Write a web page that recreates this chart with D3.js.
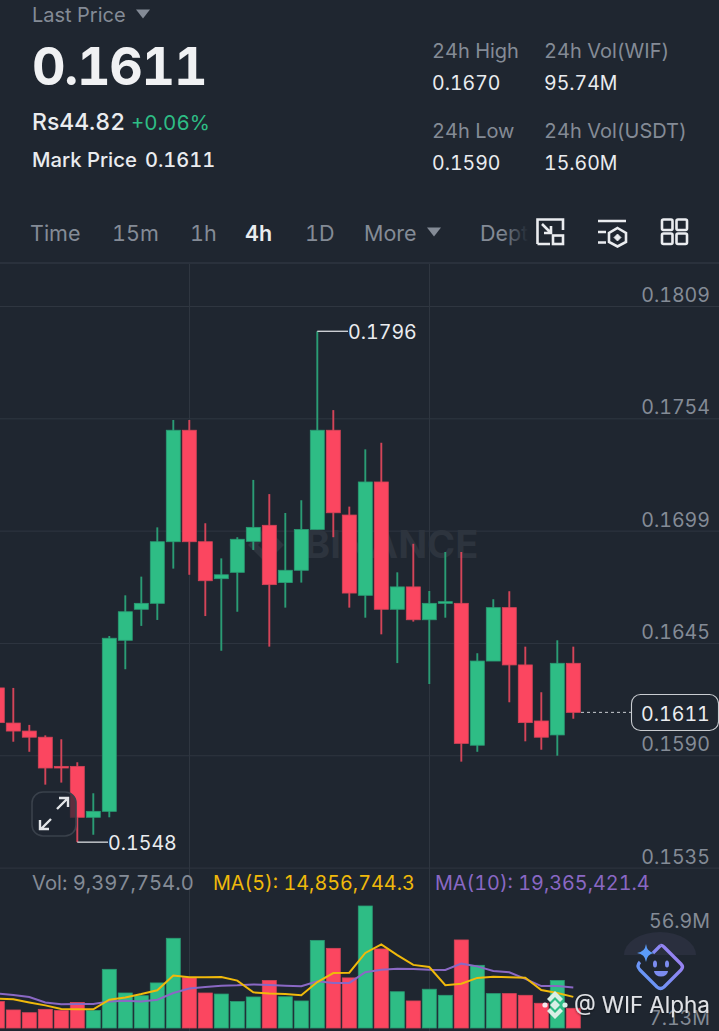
<!DOCTYPE html>
<html>
<head>
<meta charset="utf-8">
<script src="https://cdn.jsdelivr.net/npm/d3@7.9.0/dist/d3.min.js"></script>
<style>
  html, body { margin: 0; padding: 0; background: #1f2630; overflow: hidden; }
  svg { display: block; }
  text { font-family: Inter, "Noto Sans", sans-serif; font-variant-numeric: tabular-nums; }
</style>
</head>
<body>
<svg id="chart" width="719" height="1031"></svg>
<script>
// candles (first one is cut by the left edge)
const opens = [0.16227,0.16056,0.16017,0.15987,0.15845,0.15845,0.15597,0.15626,0.16459,0.16610,0.16639,0.16939,0.17482,0.16939,0.16759,0.16790,0.16941,0.17019,0.16740,0.16800,0.16999,0.17482,0.17069,0.16678,0.17230,0.16610,0.16719,0.16559,0.16639,0.16639,0.15948,0.16358,0.16618,0.16339,0.16066,0.15998,0.16347];
const closes = [0.16058,0.16017,0.15987,0.15837,0.15837,0.15597,0.15626,0.16469,0.16598,0.16639,0.16939,0.17482,0.16939,0.16749,0.16778,0.16951,0.17009,0.16730,0.16800,0.16999,0.17482,0.17080,0.16689,0.17230,0.16610,0.16719,0.16559,0.16639,0.16647,0.15957,0.16358,0.16618,0.16339,0.16058,0.15987,0.16347,0.16108];
const highs = [0.16227,0.16227,0.16047,0.15996,0.15977,0.15865,0.15714,0.16480,0.16678,0.16769,0.17009,0.17532,0.17532,0.17029,0.16858,0.16961,0.17240,0.17171,0.17079,0.17141,0.17964,0.17580,0.17110,0.17389,0.17421,0.16790,0.16929,0.16699,0.16889,0.16889,0.16396,0.16659,0.16698,0.16428,0.16206,0.16459,0.16428];
const lows = [0.16058,0.15965,0.15916,0.15756,0.15766,0.15476,0.15512,0.15597,0.16318,0.16529,0.16558,0.16808,0.16778,0.16577,0.16408,0.16598,0.16899,0.16428,0.16618,0.16740,0.16999,0.16961,0.16618,0.16569,0.16488,0.16348,0.16550,0.16246,0.16569,0.15868,0.15916,0.16358,0.16157,0.15967,0.15926,0.15897,0.16077];

// volume pane, millions
const volumes = [12.6,8.6,7.3,8.9,8.3,12.2,8.4,28.0,16.7,15.4,21.5,42.8,24.0,16.7,16.2,12.6,14.8,22.7,14.9,12.9,41.8,38.0,23.9,58.2,37.7,17.3,12.9,18.5,15.6,42.0,29.9,16.4,16.4,15.6,11.8,22.7,9.4];
const ma5 = [14.0,13.7,12.2,10.8,9.1,8.9,8.9,13.5,14.6,16.2,18.0,25.0,24.2,24.2,24.3,22.6,17.0,16.5,16.2,15.6,21.9,26.2,26.4,35.8,39.9,34.8,30.1,29.1,20.4,21.1,23.9,24.5,24.2,24.0,18.1,16.7,14.86];
const ma10 = [16.5,15.7,14.8,12.2,11.3,11.4,11.4,12.7,13.0,12.7,13.5,16.7,18.8,19.6,20.2,20.4,20.8,20.5,20.2,19.9,22.3,21.5,21.5,26.6,27.8,28.3,28.1,27.8,27.7,30.7,29.4,27.2,26.6,23.4,20.0,20.0,19.37];

const priceTicks = [0.18087,0.17540,0.16993,0.16446,0.15899,0.15352];
const tabs = ['Time','15m','1h','4h','1D','More'];

const bg = '#1f2630', green = '#2ebd85', red = '#fb4660', gray = '#848b96', white = '#eaecef';
const gridCol = '#2f3640';

const svg = d3.select('#chart');
const defs = svg.append('defs');

const fade = defs.append('linearGradient').attr('id', 'deptFade');
fade.append('stop').attr('offset', '0.45').attr('stop-color', gray);
fade.append('stop').attr('offset', '1').attr('stop-color', gray).attr('stop-opacity', 0);

const iconGrad = defs.append('linearGradient').attr('id', 'faceGrad')
  .attr('gradientUnits', 'userSpaceOnUse')
  .attr('x1', 637).attr('y1', 985).attr('x2', 684).attr('y2', 948);
iconGrad.append('stop').attr('offset', 0).attr('stop-color', '#5b9cf8');
iconGrad.append('stop').attr('offset', 1).attr('stop-color', '#a57cf0');

const shadow = defs.append('filter').attr('id', 'soft').attr('x', '-20%').attr('y', '-40%').attr('width', '140%').attr('height', '180%');
shadow.append('feDropShadow').attr('dx', 0).attr('dy', 1).attr('stdDeviation', 1.2).attr('flood-color', '#000').attr('flood-opacity', 0.55);

// scales
const idx = d3.range(-1, 36);
const x = d3.scaleLinear().domain([-1, 35]).range([-2.7, 573.3]);
const y = d3.scaleLinear().domain([0.15352, 0.18087]).range([867.6, 306]);
const yVol = d3.scaleLinear().domain([0, 58.2]).range([1028, 906]);

function label(txt, px, py, size, fill, weight) {
  return svg.append('text').attr('x', px).attr('y', py)
    .attr('font-size', size).attr('fill', fill).attr('font-weight', weight || 400).text(txt);
}
function tri(cx, cy, w, h, fill) {
  svg.append('path').attr('d', `M${cx - w / 2},${cy - h / 2}h${w}l${-w / 2},${h}z`).attr('fill', fill);
}

// === header ===
label('Last Price', 32, 22, 20, gray);
tri(143, 14, 14, 9, gray);
label('0.1611', 32, 85, 52, '#f0f1f3', 700).attr('letter-spacing', -1.3);
label('Rs44.82', 32, 130, 23, white, 500);
label('+0.06%', 131, 130, 20.5, green);
label('Mark Price', 32, 167, 20.3, white, 500);
label('0.1611', 145, 167, 20, white, 500);

label('24h High', 432, 58, 20, gray);
label('0.1670', 432, 90, 19.5, white);
label('24h Vol(WIF)', 544, 58, 20, gray);
label('95.74M', 544, 90, 19.5, white);
label('24h Low', 432, 138, 20, gray);
label('0.1590', 432, 170, 19.5, white);
label('24h Vol(USDT)', 544, 138, 20, gray);
label('15.60M', 544, 170, 19.5, white);

// === tabs ===
const tabX = [30, 112, 190, 245, 305, 364];
tabs.forEach((t, i) => {
  label(t, tabX[i], 241, 21.5, t === '4h' ? white : gray, t === '4h' ? 600 : 400);
});
tri(434, 232, 14, 9, gray);
label('Dept', 480, 241, 21.5, 'url(#deptFade)');

// icons on the right of the tabs
const ic = svg.append('g').attr('fill', 'none').attr('stroke', '#eaecef').attr('stroke-width', 2.6);
ic.append('path').attr('d', 'M537.5,244V219.5H563V230M537.5,244H550');
ic.append('path').attr('d', 'M542,224L551,233M551,226V233H544');
ic.append('rect').attr('x', 553).attr('y', 235.5).attr('width', 10).attr('height', 8.5);
ic.append('path').attr('d', 'M598,221H626M598,232H606M598,242.5H606');
ic.append('path').attr('d', 'M617.5,228L626,233V242L617.5,246.5L609,242V233Z');
ic.append('path').attr('d', 'M617.5,234l3.5,3.5l-3.5,3.5l-3.5,-3.5z').attr('fill', '#eaecef').attr('stroke-width', 0.8);
[[662, 219.5], [676.5, 219.5], [662, 233.5], [676.5, 233.5]].forEach(([a, b]) => {
  ic.append('rect').attr('x', a).attr('y', b).attr('width', 10.5).attr('height', 10.5).attr('rx', 1.5);
});

svg.append('line').attr('x1', 0).attr('x2', 719).attr('y1', 263).attr('y2', 263)
  .attr('stroke', gridCol).attr('stroke-width', 1.5);

// === grid and price axis ===
[189.5, 429.5].forEach((gx) => {
  svg.append('line').attr('x1', gx).attr('x2', gx).attr('y1', 264).attr('y2', 1031)
    .attr('stroke', gridCol).attr('stroke-width', 1);
});

const axisG = svg.append('g').attr('class', 'price-axis')
  .call(d3.axisRight(y).tickValues(priceTicks).tickSize(719).tickFormat(d3.format('.4f')));
axisG.select('.domain').remove();
axisG.selectAll('line').attr('stroke', gridCol).attr('stroke-width', 1);
axisG.selectAll('text')
  .attr('x', 710).attr('dy', -4.5).attr('text-anchor', 'end')
  .attr('font-size', 19.6).attr('font-family', 'Inter, sans-serif').attr('fill', gray);

// watermark
svg.append('text').attr('x', 305).attr('y', 558).attr('font-size', 38).attr('font-weight', 700)
  .attr('fill', '#2d343e').text('BINANCE');
svg.append('path').attr('d', 'M266,527l18,18l-18,18l-18,-18z M266,537l8,8l-8,8l-8,-8z')
  .attr('fill', '#2d343e').attr('fill-rule', 'evenodd');

// === candles ===
const candle = svg.append('g').selectAll('g').data(idx).join('g');
const col = (i) => (closes[i + 1] >= opens[i + 1] ? green : red);
const edge = (i) => (closes[i + 1] >= opens[i + 1] ? '#2a9c74' : '#d44458');
candle.append('line')
  .attr('x1', (d) => x(d)).attr('x2', (d) => x(d))
  .attr('y1', (d) => y(highs[d + 1])).attr('y2', (d) => y(lows[d + 1]))
  .attr('stroke', edge).attr('stroke-width', 1.9);
candle.append('rect')
  .attr('x', (d) => x(d) - 7).attr('width', 14)
  .attr('y', (d) => y(Math.max(opens[d + 1], closes[d + 1])))
  .attr('height', (d) => Math.max(1.5, Math.abs(y(opens[d + 1]) - y(closes[d + 1]))))
  .attr('fill', col).attr('stroke', edge).attr('stroke-width', 0.8);

// high / low pins
const maxHigh = d3.max(highs), minLow = d3.min(lows);
const hiX = x(idx[highs.indexOf(maxHigh)]), loX = x(idx[lows.indexOf(minLow)]);
svg.append('line').attr('x1', hiX).attr('x2', 348).attr('y1', y(maxHigh)).attr('y2', y(maxHigh)).attr('stroke', white).attr('stroke-width', 1.2);
label(maxHigh.toFixed(4), 348, y(maxHigh) + 8, 19.6, white);
svg.append('line').attr('x1', loX).attr('x2', 108).attr('y1', y(minLow)).attr('y2', y(minLow)).attr('stroke', white).attr('stroke-width', 1.2);
label(minLow.toFixed(4), 108, y(minLow) + 8, 19.6, white);

// last price tag
const last = closes[closes.length - 1];
svg.append('line').attr('x1', 581).attr('x2', 631).attr('y1', y(last)).attr('y2', y(last))
  .attr('stroke', '#c9ccd1').attr('stroke-width', 1).attr('stroke-dasharray', '3 3');
svg.append('rect').attr('x', 631.5).attr('y', 694.5).attr('width', 87).attr('height', 36).attr('rx', 9)
  .attr('fill', bg).attr('stroke', '#c9ccd1').attr('stroke-width', 1.1);
label(last.toFixed(4), 641, 720.5, 19.6, white);

// expand button
svg.append('rect').attr('x', 32).attr('y', 792).attr('width', 44).attr('height', 44).attr('rx', 11)
  .attr('fill', bg).attr('fill-opacity', 0.72).attr('stroke', '#3a414b').attr('stroke-width', 1.6);
svg.append('path').attr('d', 'M57,809L67,799M59,798H68V807M51,819L41,829M40,820V829H49')
  .attr('fill', 'none').attr('stroke', '#e3e5e8').attr('stroke-width', 2.4);

// === volume pane ===
label('Vol: 9,397,754.0', 32, 890, 20.2, gray);
label('MA(5): 14,856,744.3', 213, 890, 19.8, '#f0b90b');
label('MA(10): 19,365,421.4', 435, 890, 19.8, '#8a68c4');

svg.append('g').selectAll('rect').data(idx).join('rect')
  .attr('x', (d) => x(d) - 7).attr('width', 14)
  .attr('y', (d) => yVol(volumes[d + 1]))
  .attr('height', (d) => yVol(0) - yVol(volumes[d + 1]))
  .attr('fill', col).attr('stroke', edge).attr('stroke-width', 0.8);

const lineGen = (vals) => d3.line().x((d) => x(d)).y((d) => yVol(vals[d + 1]))(idx);
svg.append('path').attr('d', lineGen(ma10)).attr('fill', 'none').attr('stroke', '#8a68c4').attr('stroke-width', 2);
svg.append('path').attr('d', lineGen(ma5)).attr('fill', 'none').attr('stroke', '#f0b90b').attr('stroke-width', 2);

svg.append('text').attr('x', 710).attr('y', 928).attr('text-anchor', 'end').attr('font-size', 19.6).attr('fill', gray).text('56.9M');
svg.append('text').attr('x', 710).attr('y', 1025).attr('text-anchor', 'end').attr('font-size', 19.6).attr('fill', gray).text('7.13M');

// overlay logo + @ tag
svg.append('path').attr('d', 'M624,955a36,23 0 0 1 72,0z').attr('fill', '#2a2f3e');
svg.append('path').attr('d', 'M660.5,945.5Q662,945 664,947L681,964Q684,967 681,970L664,987Q660.5,990 657,987L640,970Q636,966 640,962')
  .attr('fill', 'none').attr('stroke', 'url(#faceGrad)').attr('stroke-width', 3.2);
svg.append('path').attr('d', 'M660.5,945.5L653,953')
  .attr('fill', 'none').attr('stroke', 'url(#faceGrad)').attr('stroke-width', 3.2);
svg.append('path').attr('d', 'M646,944Q647,952 654,953Q647,954 646,962Q645,954 637,953Q645,952 646,944z').attr('fill', '#5b9cf8');
svg.append('ellipse').attr('cx', 655).attr('cy', 964).attr('rx', 2).attr('ry', 3.6).attr('fill', '#7c8cf0');
svg.append('ellipse').attr('cx', 667).attr('cy', 964).attr('rx', 2).attr('ry', 3.6).attr('fill', '#7c8cf0');
svg.append('path').attr('d', 'M654,971h14a7,5.5 0 0 1 -14,0z').attr('fill', '#7c8cf0');

const bn = svg.append('g').attr('fill', '#d9efe6').attr('transform', 'translate(555,1005)');
bn.append('path').attr('d', 'M0,-14l8,8l-3,3l-5,-5l-5,5l-3,-3z M0,14l8,-8l-3,-3l-5,5l-5,-5l-3,3z M0,-5l5,5l-5,5l-5,-5z');
bn.append('circle').attr('cx', -10).attr('cy', 0).attr('r', 2.6).attr('fill', '#f5e9ee');
bn.append('circle').attr('cx', 10).attr('cy', 0).attr('r', 2.6);
svg.append('text').attr('x', 574).attr('y', 1013).attr('font-size', 22.5).attr('fill', '#e0e2e6')
  .attr('filter', 'url(#soft)').text('@ WIF Alpha');
</script>
</body>
</html>
